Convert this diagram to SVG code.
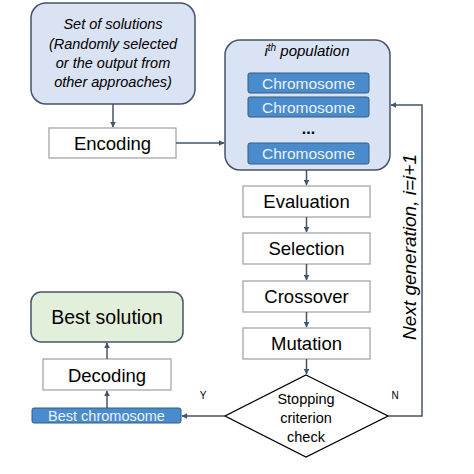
<svg xmlns="http://www.w3.org/2000/svg" width="474" height="474" viewBox="0 0 474 474">
<defs>
<marker id="ah" viewBox="0 0 10 10" refX="9" refY="5" markerWidth="6" markerHeight="6" orient="auto-start-reverse" markerUnits="userSpaceOnUse">
<path d="M0,0 L10,5 L0,10 z" fill="#44546a"/>
</marker>
<style>
text{font-family:"Liberation Sans",Arial,sans-serif;fill:#000;text-anchor:middle}
.bluebox{fill:#dae3f3;stroke:#44546a;stroke-width:1.5}
.step{fill:#fff;stroke:#a6a6a6;stroke-width:1.3}
.chrom{fill:#4a8bcc;stroke:#2f5d8a;stroke-width:1}
.ctext{fill:#eaf2fb;font-size:15.5px}
.big{font-size:18.5px}
.it{font-style:italic;font-size:14.5px}
.conn{fill:none;stroke:#44546a;stroke-width:1.5;marker-end:url(#ah)}
.lbl{font-size:10px}
</style>
</defs>
<rect width="474" height="474" fill="#fff"/>
<g id="set-of-solutions">
<rect class="bluebox" x="31" y="3" width="164" height="101" rx="15"/>
<text class="it" x="113" y="29">Set of solutions</text>
<text class="it" x="113" y="49">(Randomly selected</text>
<text class="it" x="113" y="68">or the output from</text>
<text class="it" x="113" y="87">other approaches)</text>
</g>
<g id="encoding">
<rect class="step" x="49" y="128" width="127" height="30"/>
<text class="big" x="112.5" y="150">Encoding</text>
</g>
<g id="population">
<rect class="bluebox" x="225" y="40" width="165" height="130" rx="15"/>
<text x="307" y="56" style="font-style:italic;font-size:15px">i<tspan dy="-5" style="font-size:10px">th</tspan><tspan dy="5"> population</tspan></text>
<rect class="chrom" x="248" y="73" width="121" height="20" rx="2"/>
<text class="ctext" x="308.5" y="88.5">Chromosome</text>
<rect class="chrom" x="248" y="97" width="121" height="20" rx="2"/>
<text class="ctext" x="308.5" y="112.5">Chromosome</text>
<text x="308.5" y="134" style="font-size:16px;font-weight:bold">...</text>
<rect class="chrom" x="248" y="143" width="121" height="21" rx="2"/>
<text class="ctext" x="308.5" y="159">Chromosome</text>
</g>
<g id="evaluation">
<rect class="step" x="243" y="186" width="127" height="31"/>
<text class="big" x="306.5" y="208">Evaluation</text>
</g>
<g id="selection">
<rect class="step" x="243" y="233" width="127" height="31"/>
<text class="big" x="306.5" y="255">Selection</text>
</g>
<g id="crossover">
<rect class="step" x="243" y="281" width="127" height="31"/>
<text class="big" x="306.5" y="303">Crossover</text>
</g>
<g id="mutation">
<rect class="step" x="243" y="328" width="127" height="31"/>
<text class="big" x="306.5" y="350">Mutation</text>
</g>
<g id="stopping-check">
<path d="M306,375 L388,416 L306,457 L225,416 z" fill="#fff" stroke="#000" stroke-width="1.3"/>
<text x="306" y="404" style="font-size:14.5px">Stopping</text>
<text x="306" y="423" style="font-size:14.5px">criterion</text>
<text x="306" y="442" style="font-size:14.5px">check</text>
</g>
<g id="best-chromosome">
<rect class="chrom" x="32" y="408" width="149" height="15" rx="2"/>
<text class="ctext" x="106.5" y="421" style="font-size:14.5px">Best chromosome</text>
</g>
<g id="decoding">
<rect class="step" x="43" y="359" width="128" height="31"/>
<text class="big" x="107" y="382">Decoding</text>
</g>
<g id="best-solution">
<rect x="31" y="292" width="152" height="50" rx="10" fill="#e2efda" stroke="#44546a" stroke-width="1.5"/>
<text x="107" y="324" style="font-size:19.5px">Best solution</text>
</g>
<g id="connectors">
<line class="conn" x1="113" y1="104" x2="113" y2="127"/>
<line class="conn" x1="176" y1="143" x2="224" y2="143"/>
<line class="conn" x1="306.5" y1="170" x2="306.5" y2="185"/>
<line class="conn" x1="306.5" y1="217" x2="306.5" y2="232"/>
<line class="conn" x1="306.5" y1="264" x2="306.5" y2="280"/>
<line class="conn" x1="306.5" y1="312" x2="306.5" y2="327"/>
<line class="conn" x1="306.5" y1="359" x2="306.5" y2="374"/>
<polyline class="conn" points="388,416 422,416 422,105 391,105"/>
<line class="conn" x1="225" y1="416" x2="182" y2="416"/>
<line class="conn" x1="107" y1="408" x2="107" y2="391"/>
<line class="conn" x1="107" y1="359" x2="107" y2="343"/>
<text class="lbl" x="203" y="399">Y</text>
<text class="lbl" x="395" y="399">N</text>
<text x="0" y="0" transform="translate(416,247) rotate(-90)" style="font-style:italic;font-size:19px">Next generation, i=i+1</text>
</g>
</svg>
